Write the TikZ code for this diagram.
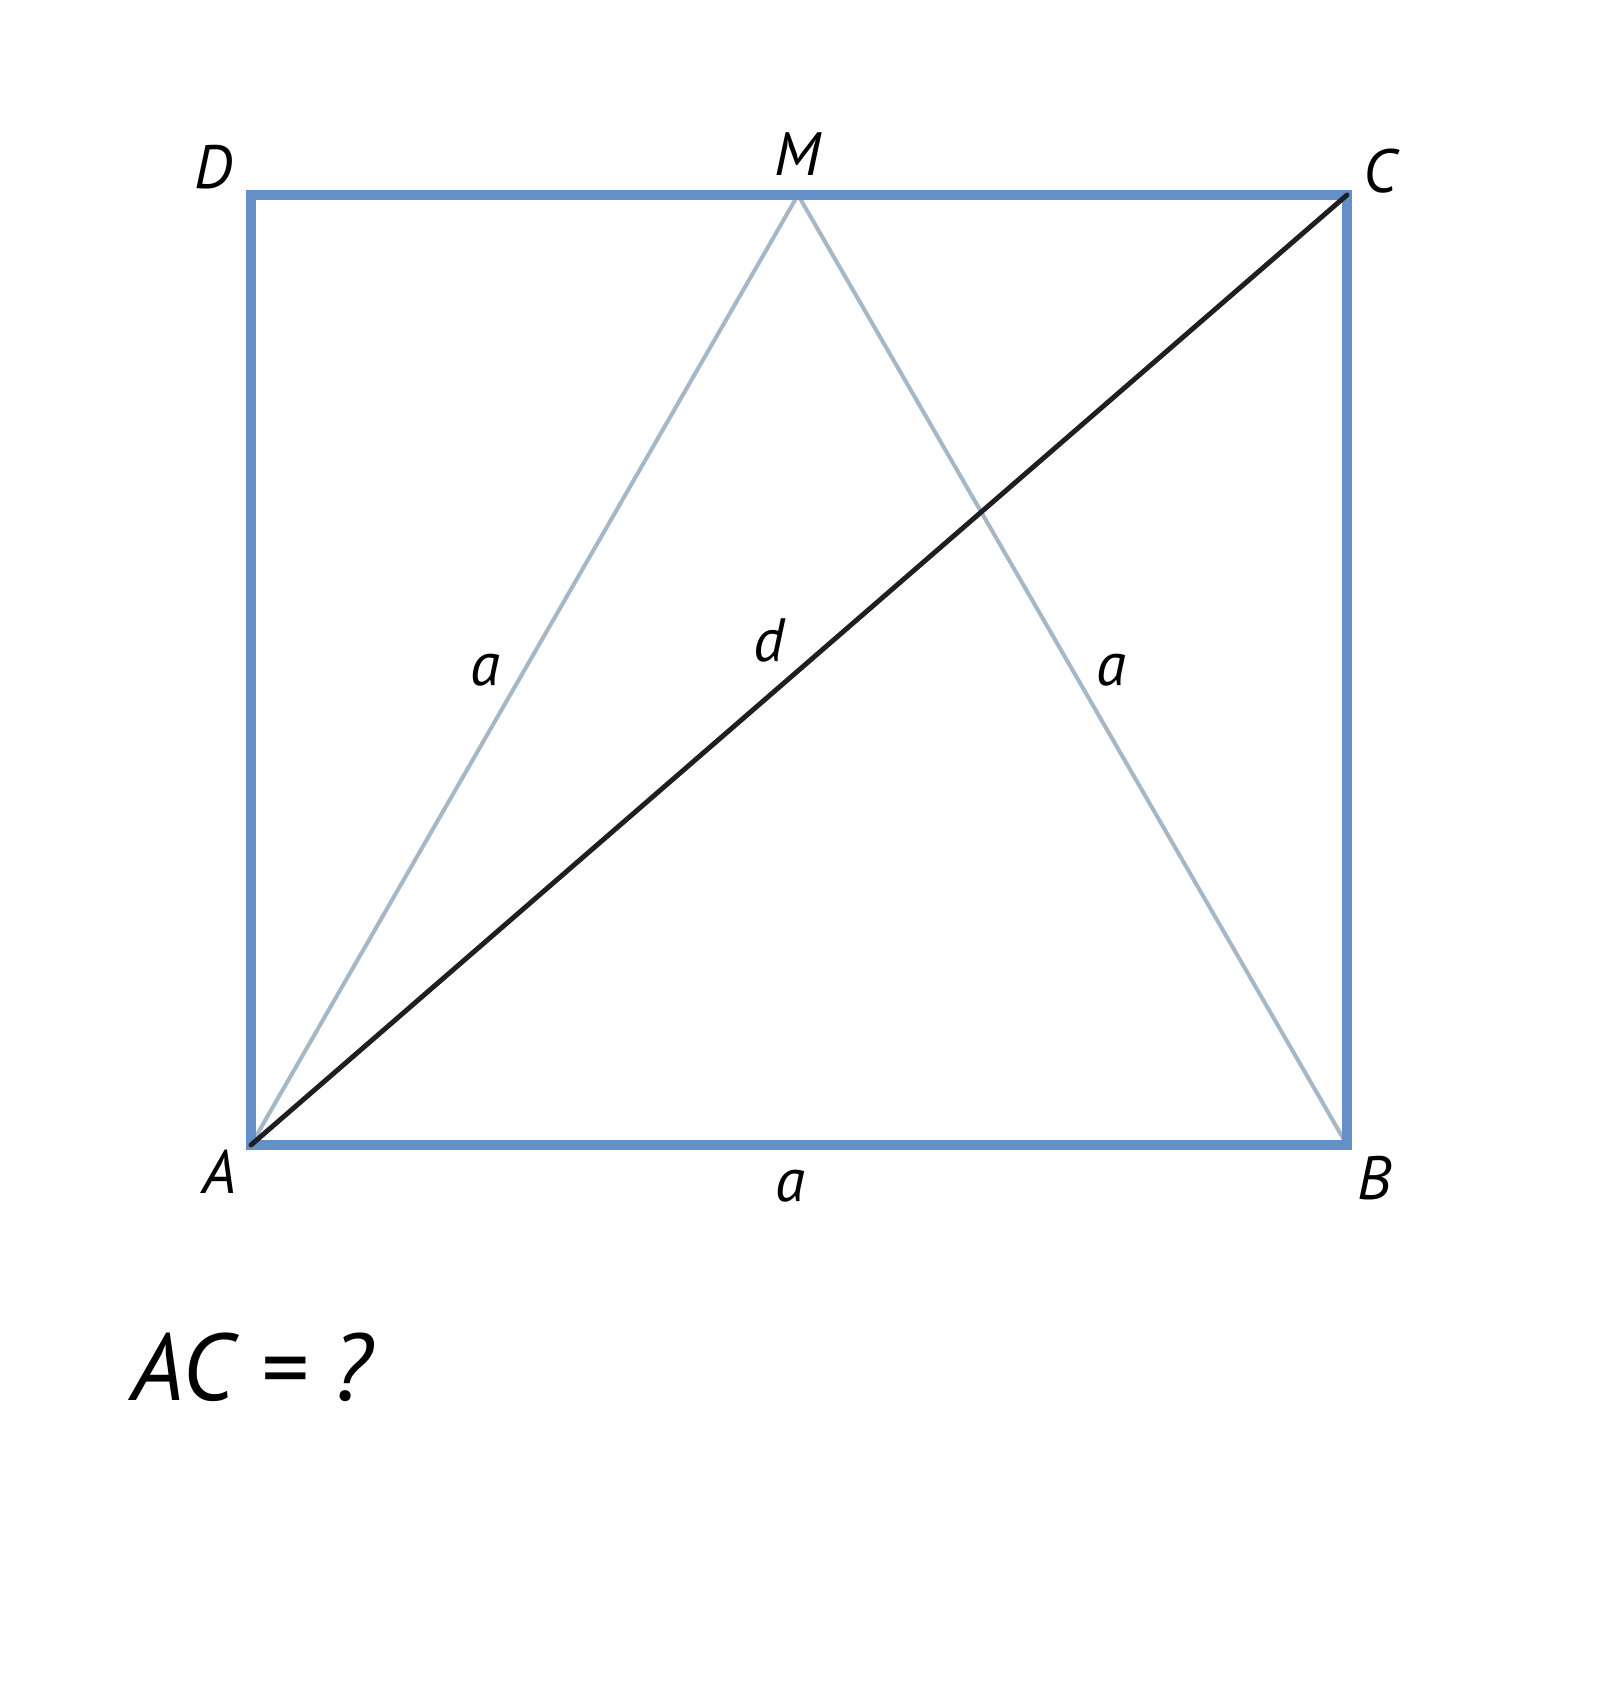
\documentclass[tikz,border=0pt]{standalone}
\usepackage{fontspec}
\setmainfont{PT Sans}
\usepackage{tikz}
\usetikzlibrary{calc}
\definecolor{sideblue}{RGB}{101,143,201}
\definecolor{legray}{RGB}{166,183,199}
\tikzset{
   side/.style={draw=sideblue, line width=2.85pt, line join=miter},
   leg/.style={draw=legray, line width=1.15pt},
   diag/.style={draw=black!88, line width=1.4pt, line cap=round},
   lbl/.style={inner sep=0pt, font=\fontsize{17.4}{20}\selectfont\itshape},
}

\begin{document}
\begin{tikzpicture}[x=1cm,y=1cm]
\useasboundingbox[fill=white] (0,0) rectangle (16,16.9);

% corners of the rectangle
\coordinate (A) at (2.51,5.45);
\coordinate (B) at (13.47,5.45);
\coordinate (C) at (13.47,14.95);
\coordinate (D) at (2.51,14.95);
\coordinate (M) at (7.98,14.95);

% vertex names
\node[lbl] (lA) at (2.20,5.18) {A};
\node[lbl] (lB) at (13.74,5.12) {B};
\node[lbl] (lC) at (13.80,15.19) {C};
\node[lbl] (lD) at (2.14,15.23) {D};
\node[lbl] (lM) at (7.98,15.36) {M};

% lengths
\node[lbl] (aL) at (4.85,10.20) {a};
\node[lbl] (aR) at (11.11,10.20) {a};
\node[lbl] (aB) at (7.90,5.04) {a};
\node[lbl] (dd) at (7.69,10.50) {d};

\node[lbl, font=\fontsize{27}{30}\selectfont\itshape] (ask) at (2.515,3.225) {AC\;=\;?};

\path[leg]
(A) edge (M)
(B) edge (M)
;
\draw[side] (A) -- (B) -- (C) -- (D) -- cycle;
\path[diag]
(A) edge (C)
;

\end{tikzpicture}
\end{document}
